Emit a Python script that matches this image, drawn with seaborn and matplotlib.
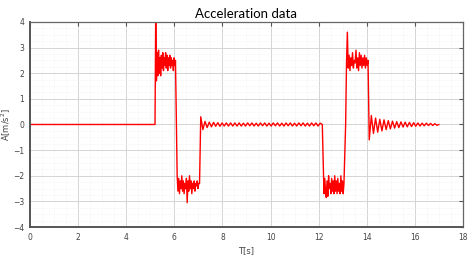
import numpy as np
import pandas as pd
import matplotlib.pyplot as plt
from matplotlib.ticker import MultipleLocator
import seaborn as sns

# segments of the signal: (t start, t end) and values,
# values are spread evenly over their segment
flat_t = (0.0, 5.2)
flat_a = [0.0, 0.0]

pos1_t = (5.2, 6.05)
pos1_a = [0.0, 4.4, 1.7, 2.8, 1.9, 2.9, 2.0, 2.6, 1.9, 2.7, 2.2, 2.8,
          2.1, 2.6, 2.3, 2.8, 2.2, 2.7, 2.1, 2.6, 2.3, 2.7, 2.2, 2.6,
          2.3, 2.5, 2.1, 2.6, 2.3, 2.5]

neg1_t = (6.12, 7.05)
neg1_a = [-2.0, -2.6, -2.1, -2.7, -2.2, -2.5, -2.0, -2.6, -2.2, -2.7,
          -2.3, -2.5, -2.1, -3.05, -2.2, -2.6, -2.0, -2.5, -2.2, -2.7,
          -2.3, -2.5, -2.2, -2.6, -2.3, -2.4, -2.2, -2.5, -2.3, -2.3]

rest1_t = (7.1, 12.15)
rest1_a = [0.3, -0.2, 0.12, -0.12, 0.09, -0.09, 0.08, -0.07, 0.07, -0.07,
           0.06, -0.06, 0.06, -0.06, 0.06, -0.06, 0.06, -0.06, 0.06, -0.06,
           0.05, -0.06, 0.06, -0.05, 0.06, -0.06, 0.05, -0.06, 0.06, -0.05,
           0.06, -0.06, 0.05, -0.06, 0.06, -0.05, 0.06, -0.06, 0.05, -0.06,
           0.06, -0.05, 0.06, -0.06, 0.05, -0.06, 0.06, -0.05, 0.06, -0.06,
           0.05, -0.06, 0.06, -0.05, 0.06, -0.06, 0.05, 0.0]

neg2_t = (12.22, 13.05)
neg2_a = [-2.7, -2.1, -2.6, -2.85, -2.2, -2.8, -2.0, -2.5, -2.3, -2.7,
          -2.1, -2.6, -2.2, -2.7, -2.0, -2.6, -2.2, -2.7, -2.1, -2.6,
          -2.3, -2.7, -2.0, -2.6, -2.2, -2.7, -2.3]

pos2_t = (13.12, 14.05)
pos2_a = [0.0, 2.4, 3.6, 2.2, 2.7, 2.1, 2.6, 2.3, 2.8, 2.2, 2.5, 2.4,
          2.9, 2.2, 2.6, 2.1, 2.8, 2.3, 2.7, 2.2, 2.6, 2.3, 2.7, 2.2,
          2.6, 2.3, 2.5]

rest2_t = (14.1, 17.0)
rest2_a = [-0.6, 0.35, -0.35, 0.25, -0.3, 0.2, -0.25, 0.18, -0.2, 0.15,
           -0.17, 0.13, -0.14, 0.11, -0.12, 0.1, -0.1, 0.09, -0.09, 0.08,
           -0.08, 0.07, -0.07, 0.06, -0.06, 0.05, -0.05, 0.05, -0.04, 0.04,
           -0.04, 0.03, -0.03, 0.0]

segments = [(flat_t, flat_a), (pos1_t, pos1_a), (neg1_t, neg1_a),
            (rest1_t, rest1_a), (neg2_t, neg2_a), (pos2_t, pos2_a),
            (rest2_t, rest2_a)]

parts = []
for (t0, t1), vals in segments:
    parts.append(pd.DataFrame({'T': np.linspace(t0, t1, len(vals)), 'A': vals}))
df = pd.concat(parts, ignore_index=True)

sns.set_style('white')
plt.rcParams['font.family'] = ['DejaVu Sans']

fig = plt.figure(figsize=(4.74, 2.58), dpi=100)
ax = fig.add_axes([0.063, 0.12, 0.914, 0.795])

sns.lineplot(data=df, x='T', y='A', ax=ax, color='#ff0000', linewidth=1.0,
             estimator=None, sort=False)

ax.set_xlim(0, 18)
ax.set_ylim(-4, 4)
ax.xaxis.set_major_locator(MultipleLocator(2))
ax.yaxis.set_major_locator(MultipleLocator(1))
ax.xaxis.set_minor_locator(MultipleLocator(0.5))
ax.yaxis.set_minor_locator(MultipleLocator(0.25))
ax.grid(which='major', color='#d4d4d4', linewidth=0.7)
ax.grid(which='minor', color='#ececec', linewidth=0.5, linestyle=':')
ax.set_axisbelow(True)

for side in ['left', 'bottom']:
    ax.spines[side].set_color('#555555')
    ax.spines[side].set_linewidth(1.4)
for side in ['top', 'right']:
    ax.spines[side].set_color('#666666')
    ax.spines[side].set_linewidth(0.9)

ax.tick_params(which='major', direction='in', length=3, width=0.8,
               colors='#555555', labelsize=5.5, labelcolor='#444444',
               top=True, right=True, pad=4)
ax.tick_params(which='minor', length=0)

ax.set_title('Acceleration data', family=['Lato', 'DejaVu Sans'],
             fontsize=9.5, color='black', pad=3)
ax.set_xlabel('T[s]', fontsize=6, color='#444444', labelpad=3)
ax.set_ylabel('A[m/s$^2$]', fontsize=6, color='#444444')
ax.yaxis.set_label_coords(-0.04, 0.5)

fig.savefig('out.png', dpi=100)
